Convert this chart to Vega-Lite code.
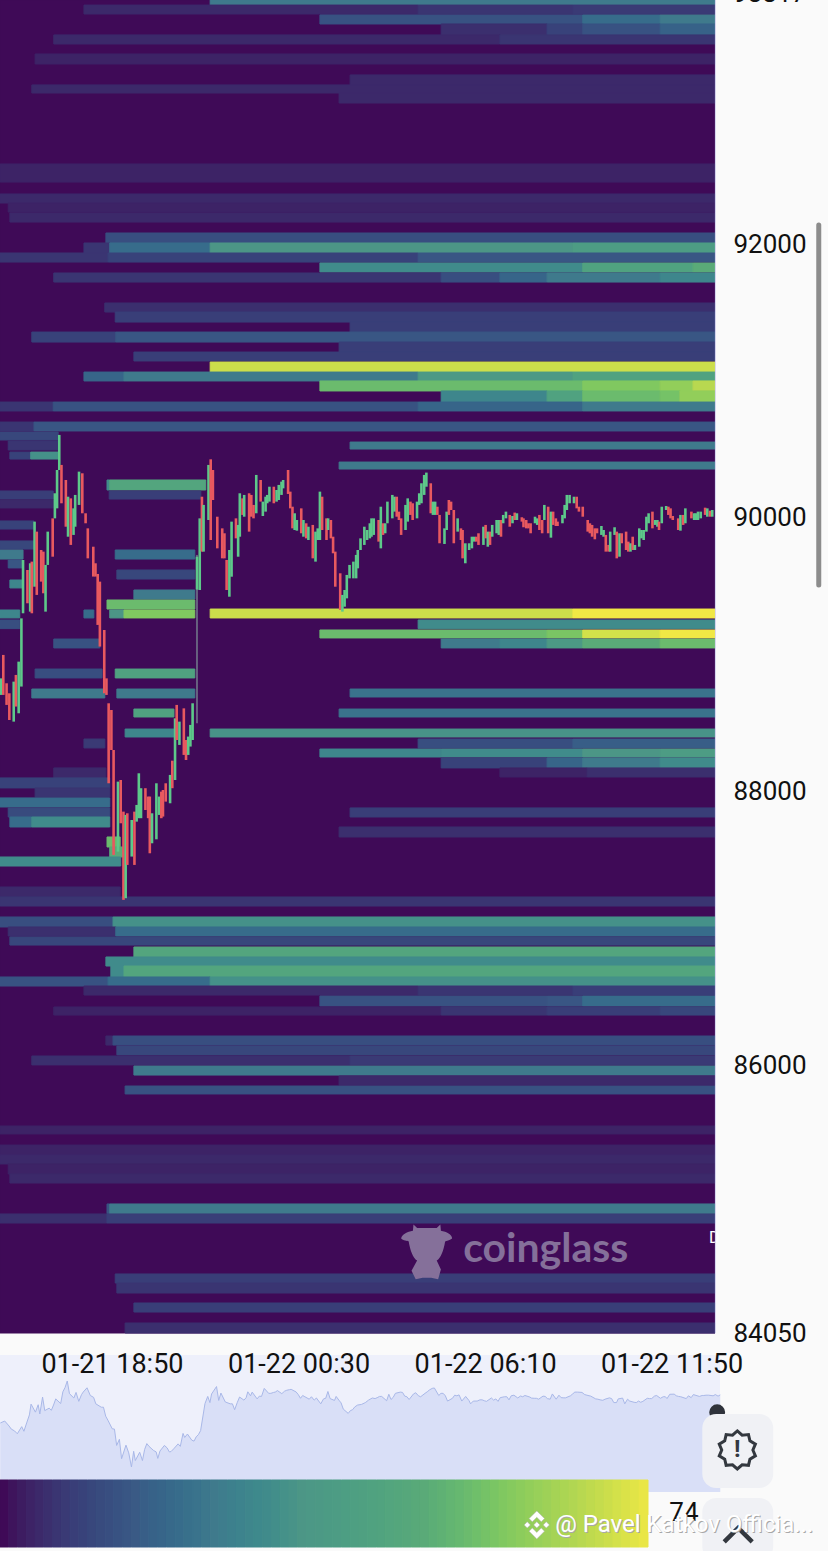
{"$schema":"https://vega.github.io/schema/vega-lite/v6.json","width":828,"height":1551,"padding":0,"autosize":{"type":"none"},"background":"#fafafa","config":{"view":{"stroke":null},"font":"Roboto"},
"resolve":{"scale":{"x":"independent","y":"independent","color":"independent","stroke":"independent"}},
"datasets":{
"heat":[
{"from":"2026-01-21T15:26Z","to":"2026-01-22T13:09Z","low":84043,"high":93774,"v":0},
{"from":"2026-01-21T21:49Z","to":"2026-01-22T13:09Z","low":93737,"high":93774,"v":24},
{"from":"2026-01-21T17:59Z","to":"2026-01-22T04:08Z","low":93672,"high":93737,"v":4},
{"from":"2026-01-22T04:08Z","to":"2026-01-22T08:50Z","low":93672,"high":93737,"v":6},
{"from":"2026-01-22T08:50Z","to":"2026-01-22T13:09Z","low":93672,"high":93737,"v":7},
{"from":"2026-01-22T01:09Z","to":"2026-01-22T09:08Z","low":93599,"high":93665,"v":13},
{"from":"2026-01-22T09:08Z","to":"2026-01-22T11:29Z","low":93599,"high":93665,"v":20},
{"from":"2026-01-22T11:29Z","to":"2026-01-22T13:09Z","low":93599,"high":93665,"v":24},
{"from":"2026-01-22T04:50Z","to":"2026-01-22T08:03Z","low":93519,"high":93599,"v":5},
{"from":"2026-01-22T08:03Z","to":"2026-01-22T09:08Z","low":93519,"high":93599,"v":9},
{"from":"2026-01-22T09:08Z","to":"2026-01-22T11:29Z","low":93519,"high":93599,"v":13},
{"from":"2026-01-22T11:29Z","to":"2026-01-22T13:09Z","low":93519,"high":93599,"v":17},
{"from":"2026-01-21T17:04Z","to":"2026-01-22T06:37Z","low":93453,"high":93519,"v":4},
{"from":"2026-01-22T06:37Z","to":"2026-01-22T13:09Z","low":93453,"high":93519,"v":6},
{"from":"2026-01-21T16:30Z","to":"2026-01-22T13:09Z","low":93307,"high":93380,"v":3},
{"from":"2026-01-22T02:04Z","to":"2026-01-22T13:09Z","low":93154,"high":93227,"v":4},
{"from":"2026-01-21T16:24Z","to":"2026-01-22T13:09Z","low":93095,"high":93154,"v":4},
{"from":"2026-01-22T01:44Z","to":"2026-01-22T13:09Z","low":93022,"high":93095,"v":4},
{"from":"2026-01-21T15:26Z","to":"2026-01-22T13:09Z","low":92445,"high":92577,"v":3},
{"from":"2026-01-21T15:26Z","to":"2026-01-22T13:09Z","low":92292,"high":92358,"v":4},
{"from":"2026-01-21T15:41Z","to":"2026-01-22T13:09Z","low":92226,"high":92292,"v":3},
{"from":"2026-01-21T15:44Z","to":"2026-01-22T13:09Z","low":92153,"high":92219,"v":4},
{"from":"2026-01-21T18:39Z","to":"2026-01-22T13:09Z","low":92000,"high":92073,"v":12},
{"from":"2026-01-21T17:59Z","to":"2026-01-21T18:46Z","low":91927,"high":92000,"v":6},
{"from":"2026-01-21T18:46Z","to":"2026-01-21T21:49Z","low":91927,"high":92000,"v":20},
{"from":"2026-01-21T21:49Z","to":"2026-01-22T08:50Z","low":91927,"high":92000,"v":34},
{"from":"2026-01-22T08:50Z","to":"2026-01-22T13:09Z","low":91927,"high":92000,"v":38},
{"from":"2026-01-21T15:26Z","to":"2026-01-21T18:43Z","low":91861,"high":91927,"v":6},
{"from":"2026-01-21T18:43Z","to":"2026-01-22T04:08Z","low":91861,"high":91927,"v":9},
{"from":"2026-01-22T04:08Z","to":"2026-01-22T13:09Z","low":91861,"high":91927,"v":14},
{"from":"2026-01-22T01:09Z","to":"2026-01-22T09:08Z","low":91788,"high":91854,"v":30},
{"from":"2026-01-22T09:08Z","to":"2026-01-22T12:29Z","low":91788,"high":91854,"v":42},
{"from":"2026-01-22T12:29Z","to":"2026-01-22T13:09Z","low":91788,"high":91854,"v":48},
{"from":"2026-01-21T17:04Z","to":"2026-01-22T04:50Z","low":91715,"high":91781,"v":6},
{"from":"2026-01-22T04:50Z","to":"2026-01-22T06:37Z","low":91715,"high":91781,"v":12},
{"from":"2026-01-22T06:37Z","to":"2026-01-22T08:03Z","low":91715,"high":91781,"v":18},
{"from":"2026-01-22T08:03Z","to":"2026-01-22T11:29Z","low":91715,"high":91781,"v":24},
{"from":"2026-01-22T11:29Z","to":"2026-01-22T13:09Z","low":91715,"high":91781,"v":28},
{"from":"2026-01-21T18:37Z","to":"2026-01-22T13:09Z","low":91496,"high":91562,"v":5},
{"from":"2026-01-21T18:56Z","to":"2026-01-22T13:09Z","low":91423,"high":91496,"v":8},
{"from":"2026-01-22T02:04Z","to":"2026-01-22T13:09Z","low":91350,"high":91423,"v":8},
{"from":"2026-01-21T16:24Z","to":"2026-01-21T18:57Z","low":91277,"high":91350,"v":9},
{"from":"2026-01-21T18:57Z","to":"2026-01-22T13:09Z","low":91277,"high":91350,"v":14},
{"from":"2026-01-22T01:44Z","to":"2026-01-22T13:09Z","low":91204,"high":91277,"v":8},
{"from":"2026-01-21T19:30Z","to":"2026-01-22T13:09Z","low":91139,"high":91204,"v":8},
{"from":"2026-01-21T21:49Z","to":"2026-01-22T13:09Z","low":91058,"high":91131,"v":69},
{"from":"2026-01-21T17:59Z","to":"2026-01-21T19:12Z","low":90993,"high":91058,"v":18},
{"from":"2026-01-21T19:12Z","to":"2026-01-22T04:08Z","low":90993,"high":91058,"v":24},
{"from":"2026-01-22T04:08Z","to":"2026-01-22T08:50Z","low":90993,"high":91058,"v":36},
{"from":"2026-01-22T08:50Z","to":"2026-01-22T13:09Z","low":90993,"high":91058,"v":42},
{"from":"2026-01-22T01:09Z","to":"2026-01-22T09:08Z","low":90920,"high":90993,"v":53},
{"from":"2026-01-22T09:08Z","to":"2026-01-22T11:29Z","low":90920,"high":90993,"v":57},
{"from":"2026-01-22T11:29Z","to":"2026-01-22T12:29Z","low":90920,"high":90993,"v":60},
{"from":"2026-01-22T12:29Z","to":"2026-01-22T13:09Z","low":90920,"high":90993,"v":66},
{"from":"2026-01-22T04:50Z","to":"2026-01-22T08:03Z","low":90839,"high":90920,"v":28},
{"from":"2026-01-22T08:03Z","to":"2026-01-22T09:08Z","low":90839,"high":90920,"v":42},
{"from":"2026-01-22T09:08Z","to":"2026-01-22T11:29Z","low":90839,"high":90920,"v":53},
{"from":"2026-01-22T11:29Z","to":"2026-01-22T12:05Z","low":90839,"high":90920,"v":55},
{"from":"2026-01-22T12:05Z","to":"2026-01-22T13:09Z","low":90839,"high":90920,"v":60},
{"from":"2026-01-21T15:26Z","to":"2026-01-21T17:03Z","low":90774,"high":90839,"v":6},
{"from":"2026-01-21T17:03Z","to":"2026-01-22T04:08Z","low":90774,"high":90839,"v":13},
{"from":"2026-01-22T04:08Z","to":"2026-01-22T09:08Z","low":90774,"high":90839,"v":18},
{"from":"2026-01-22T09:08Z","to":"2026-01-22T13:09Z","low":90774,"high":90839,"v":24},
{"from":"2026-01-21T15:26Z","to":"2026-01-21T16:28Z","low":90628,"high":90693,"v":6},
{"from":"2026-01-21T16:28Z","to":"2026-01-22T13:09Z","low":90628,"high":90693,"v":14},
{"from":"2026-01-21T15:26Z","to":"2026-01-21T17:12Z","low":90562,"high":90620,"v":10},
{"from":"2026-01-21T15:41Z","to":"2026-01-21T17:12Z","low":90489,"high":90555,"v":6},
{"from":"2026-01-22T02:04Z","to":"2026-01-22T13:09Z","low":90496,"high":90547,"v":24},
{"from":"2026-01-21T15:44Z","to":"2026-01-21T16:22Z","low":90423,"high":90474,"v":9},
{"from":"2026-01-21T16:22Z","to":"2026-01-21T17:12Z","low":90423,"high":90474,"v":32},
{"from":"2026-01-22T01:44Z","to":"2026-01-22T13:09Z","low":90350,"high":90401,"v":24},
{"from":"2026-01-21T18:41Z","to":"2026-01-21T18:46Z","low":90197,"high":90270,"v":30},
{"from":"2026-01-21T18:46Z","to":"2026-01-21T21:41Z","low":90197,"high":90270,"v":44},
{"from":"2026-01-21T15:26Z","to":"2026-01-21T17:03Z","low":90131,"high":90190,"v":8},
{"from":"2026-01-21T18:45Z","to":"2026-01-21T21:32Z","low":90131,"high":90190,"v":8},
{"from":"2026-01-21T15:26Z","to":"2026-01-21T17:03Z","low":90066,"high":90124,"v":4},
{"from":"2026-01-21T15:26Z","to":"2026-01-21T16:28Z","low":89912,"high":89971,"v":9},
{"from":"2026-01-21T15:26Z","to":"2026-01-21T16:28Z","low":89766,"high":89825,"v":10},
{"from":"2026-01-21T15:26Z","to":"2026-01-21T16:08Z","low":89693,"high":89759,"v":24},
{"from":"2026-01-21T18:56Z","to":"2026-01-21T21:21Z","low":89693,"high":89759,"v":20},
{"from":"2026-01-21T15:41Z","to":"2026-01-21T16:08Z","low":89628,"high":89686,"v":14},
{"from":"2026-01-21T18:59Z","to":"2026-01-21T21:21Z","low":89547,"high":89613,"v":10},
{"from":"2026-01-21T15:44Z","to":"2026-01-21T16:08Z","low":89482,"high":89540,"v":28},
{"from":"2026-01-21T19:30Z","to":"2026-01-21T21:21Z","low":89401,"high":89467,"v":24},
{"from":"2026-01-21T18:41Z","to":"2026-01-21T21:21Z","low":89328,"high":89394,"v":53},
{"from":"2026-01-21T15:26Z","to":"2026-01-21T16:02Z","low":89263,"high":89321,"v":28},
{"from":"2026-01-21T17:59Z","to":"2026-01-21T18:17Z","low":89263,"high":89321,"v":20},
{"from":"2026-01-21T18:46Z","to":"2026-01-21T19:12Z","low":89263,"high":89321,"v":34},
{"from":"2026-01-21T19:12Z","to":"2026-01-21T21:21Z","low":89263,"high":89321,"v":57},
{"from":"2026-01-21T21:49Z","to":"2026-01-22T08:50Z","low":89263,"high":89328,"v":69},
{"from":"2026-01-22T08:50Z","to":"2026-01-22T13:09Z","low":89263,"high":89328,"v":74},
{"from":"2026-01-21T15:26Z","to":"2026-01-21T16:02Z","low":89185,"high":89248,"v":12},
{"from":"2026-01-22T04:08Z","to":"2026-01-22T13:09Z","low":89185,"high":89248,"v":30},
{"from":"2026-01-22T01:09Z","to":"2026-01-22T08:03Z","low":89117,"high":89175,"v":53},
{"from":"2026-01-22T08:03Z","to":"2026-01-22T09:08Z","low":89117,"high":89175,"v":56},
{"from":"2026-01-22T09:08Z","to":"2026-01-22T11:29Z","low":89117,"high":89175,"v":70},
{"from":"2026-01-22T11:29Z","to":"2026-01-22T13:09Z","low":89117,"high":89175,"v":74},
{"from":"2026-01-21T17:04Z","to":"2026-01-21T18:28Z","low":89044,"high":89109,"v":13},
{"from":"2026-01-22T04:50Z","to":"2026-01-22T06:37Z","low":89044,"high":89109,"v":24},
{"from":"2026-01-22T06:37Z","to":"2026-01-22T08:03Z","low":89044,"high":89109,"v":28},
{"from":"2026-01-22T08:03Z","to":"2026-01-22T09:08Z","low":89044,"high":89109,"v":36},
{"from":"2026-01-22T09:08Z","to":"2026-01-22T11:29Z","low":89044,"high":89109,"v":48},
{"from":"2026-01-22T11:29Z","to":"2026-01-22T13:09Z","low":89044,"high":89109,"v":53},
{"from":"2026-01-21T16:30Z","to":"2026-01-21T18:32Z","low":88825,"high":88890,"v":12},
{"from":"2026-01-21T18:56Z","to":"2026-01-21T21:21Z","low":88825,"high":88890,"v":42},
{"from":"2026-01-21T16:24Z","to":"2026-01-21T18:37Z","low":88679,"high":88744,"v":24},
{"from":"2026-01-21T18:59Z","to":"2026-01-21T21:21Z","low":88679,"high":88744,"v":24},
{"from":"2026-01-22T02:04Z","to":"2026-01-22T13:09Z","low":88686,"high":88744,"v":22},
{"from":"2026-01-21T19:30Z","to":"2026-01-21T20:43Z","low":88540,"high":88598,"v":42},
{"from":"2026-01-22T01:44Z","to":"2026-01-22T13:09Z","low":88540,"high":88598,"v":22},
{"from":"2026-01-21T19:14Z","to":"2026-01-21T20:43Z","low":88394,"high":88452,"v":28},
{"from":"2026-01-21T21:49Z","to":"2026-01-22T13:09Z","low":88394,"high":88452,"v":33},
{"from":"2026-01-21T17:59Z","to":"2026-01-21T18:37Z","low":88314,"high":88379,"v":7},
{"from":"2026-01-22T04:08Z","to":"2026-01-22T08:50Z","low":88314,"high":88379,"v":12},
{"from":"2026-01-22T08:50Z","to":"2026-01-22T13:09Z","low":88314,"high":88379,"v":16},
{"from":"2026-01-22T01:09Z","to":"2026-01-22T04:50Z","low":88248,"high":88306,"v":28},
{"from":"2026-01-22T04:50Z","to":"2026-01-22T09:08Z","low":88248,"high":88306,"v":30},
{"from":"2026-01-22T09:08Z","to":"2026-01-22T11:29Z","low":88248,"high":88306,"v":34},
{"from":"2026-01-22T11:29Z","to":"2026-01-22T13:09Z","low":88248,"high":88306,"v":38},
{"from":"2026-01-22T04:50Z","to":"2026-01-22T08:03Z","low":88168,"high":88241,"v":9},
{"from":"2026-01-22T08:03Z","to":"2026-01-22T09:08Z","low":88168,"high":88241,"v":18},
{"from":"2026-01-22T09:08Z","to":"2026-01-22T11:29Z","low":88168,"high":88241,"v":24},
{"from":"2026-01-22T11:29Z","to":"2026-01-22T13:09Z","low":88168,"high":88241,"v":30},
{"from":"2026-01-22T06:37Z","to":"2026-01-22T09:16Z","low":88102,"high":88168,"v":3},
{"from":"2026-01-22T09:16Z","to":"2026-01-22T13:09Z","low":88102,"high":88168,"v":5},
{"from":"2026-01-21T17:04Z","to":"2026-01-21T18:39Z","low":88095,"high":88168,"v":4},
{"from":"2026-01-21T15:26Z","to":"2026-01-21T18:46Z","low":88022,"high":88095,"v":9},
{"from":"2026-01-21T16:30Z","to":"2026-01-21T18:46Z","low":87956,"high":88022,"v":6},
{"from":"2026-01-21T15:26Z","to":"2026-01-21T18:46Z","low":87883,"high":87949,"v":20},
{"from":"2026-01-21T15:41Z","to":"2026-01-21T18:46Z","low":87810,"high":87876,"v":11},
{"from":"2026-01-22T02:04Z","to":"2026-01-22T13:09Z","low":87810,"high":87876,"v":8},
{"from":"2026-01-21T15:44Z","to":"2026-01-21T16:24Z","low":87737,"high":87810,"v":20},
{"from":"2026-01-21T16:24Z","to":"2026-01-21T18:46Z","low":87737,"high":87810,"v":30},
{"from":"2026-01-22T01:44Z","to":"2026-01-22T13:09Z","low":87664,"high":87737,"v":5},
{"from":"2026-01-21T18:41Z","to":"2026-01-21T19:05Z","low":87591,"high":87664,"v":53},
{"from":"2026-01-21T18:46Z","to":"2026-01-21T19:10Z","low":87518,"high":87591,"v":48},
{"from":"2026-01-21T15:26Z","to":"2026-01-21T19:06Z","low":87452,"high":87518,"v":30},
{"from":"2026-01-21T15:26Z","to":"2026-01-21T19:05Z","low":87226,"high":87299,"v":4},
{"from":"2026-01-21T15:26Z","to":"2026-01-22T13:09Z","low":87160,"high":87226,"v":6},
{"from":"2026-01-21T15:26Z","to":"2026-01-21T18:52Z","low":87007,"high":87080,"v":12},
{"from":"2026-01-21T18:52Z","to":"2026-01-22T13:09Z","low":87007,"high":87080,"v":32},
{"from":"2026-01-21T15:41Z","to":"2026-01-21T18:57Z","low":86941,"high":87007,"v":5},
{"from":"2026-01-21T18:57Z","to":"2026-01-22T13:09Z","low":86941,"high":87007,"v":20},
{"from":"2026-01-21T15:44Z","to":"2026-01-22T13:09Z","low":86875,"high":86934,"v":10},
{"from":"2026-01-21T19:30Z","to":"2026-01-22T13:09Z","low":86788,"high":86861,"v":44},
{"from":"2026-01-21T18:39Z","to":"2026-01-22T13:09Z","low":86722,"high":86788,"v":30},
{"from":"2026-01-21T18:48Z","to":"2026-01-21T19:12Z","low":86642,"high":86722,"v":30},
{"from":"2026-01-21T19:12Z","to":"2026-01-22T13:09Z","low":86642,"high":86722,"v":44},
{"from":"2026-01-21T15:26Z","to":"2026-01-21T18:43Z","low":86576,"high":86642,"v":13},
{"from":"2026-01-21T18:43Z","to":"2026-01-21T21:49Z","low":86576,"high":86642,"v":20},
{"from":"2026-01-21T21:49Z","to":"2026-01-22T13:09Z","low":86576,"high":86642,"v":32},
{"from":"2026-01-21T17:59Z","to":"2026-01-22T04:08Z","low":86510,"high":86576,"v":4},
{"from":"2026-01-22T04:08Z","to":"2026-01-22T08:50Z","low":86510,"high":86576,"v":6},
{"from":"2026-01-22T08:50Z","to":"2026-01-22T13:09Z","low":86510,"high":86576,"v":8},
{"from":"2026-01-22T01:09Z","to":"2026-01-22T08:03Z","low":86430,"high":86503,"v":13},
{"from":"2026-01-22T08:03Z","to":"2026-01-22T09:08Z","low":86430,"high":86503,"v":14},
{"from":"2026-01-22T09:08Z","to":"2026-01-22T13:09Z","low":86430,"high":86503,"v":20},
{"from":"2026-01-21T17:04Z","to":"2026-01-22T04:50Z","low":86364,"high":86423,"v":3},
{"from":"2026-01-22T04:50Z","to":"2026-01-22T08:03Z","low":86364,"high":86423,"v":6},
{"from":"2026-01-22T08:03Z","to":"2026-01-22T11:29Z","low":86364,"high":86423,"v":8},
{"from":"2026-01-22T11:29Z","to":"2026-01-22T13:09Z","low":86364,"high":86423,"v":10},
{"from":"2026-01-21T18:39Z","to":"2026-01-21T18:52Z","low":86145,"high":86211,"v":4},
{"from":"2026-01-21T18:52Z","to":"2026-01-22T13:09Z","low":86145,"high":86211,"v":12},
{"from":"2026-01-21T18:59Z","to":"2026-01-22T13:09Z","low":86073,"high":86138,"v":10},
{"from":"2026-01-21T16:24Z","to":"2026-01-22T02:04Z","low":86000,"high":86065,"v":5},
{"from":"2026-01-22T02:04Z","to":"2026-01-22T13:09Z","low":86000,"high":86065,"v":7},
{"from":"2026-01-21T19:30Z","to":"2026-01-22T13:09Z","low":85926,"high":85992,"v":24},
{"from":"2026-01-22T01:44Z","to":"2026-01-22T13:09Z","low":85853,"high":85919,"v":4},
{"from":"2026-01-21T19:14Z","to":"2026-01-22T13:09Z","low":85788,"high":85846,"v":13},
{"from":"2026-01-21T15:26Z","to":"2026-01-22T13:09Z","low":85496,"high":85554,"v":3},
{"from":"2026-01-21T15:26Z","to":"2026-01-22T13:09Z","low":85342,"high":85415,"v":3},
{"from":"2026-01-21T15:26Z","to":"2026-01-22T13:09Z","low":85277,"high":85342,"v":4},
{"from":"2026-01-21T15:41Z","to":"2026-01-22T13:09Z","low":85204,"high":85277,"v":3},
{"from":"2026-01-21T15:44Z","to":"2026-01-22T13:09Z","low":85138,"high":85204,"v":4},
{"from":"2026-01-21T18:41Z","to":"2026-01-21T18:46Z","low":84912,"high":84985,"v":13},
{"from":"2026-01-21T18:46Z","to":"2026-01-22T13:09Z","low":84912,"high":84985,"v":24},
{"from":"2026-01-21T15:26Z","to":"2026-01-21T18:41Z","low":84846,"high":84912,"v":5},
{"from":"2026-01-21T18:41Z","to":"2026-01-22T13:09Z","low":84846,"high":84912,"v":8},
{"from":"2026-01-21T18:56Z","to":"2026-01-22T13:09Z","low":84408,"high":84474,"v":8},
{"from":"2026-01-21T18:59Z","to":"2026-01-22T13:09Z","low":84335,"high":84408,"v":6},
{"from":"2026-01-21T19:30Z","to":"2026-01-22T13:09Z","low":84196,"high":84262,"v":8},
{"from":"2026-01-21T19:14Z","to":"2026-01-22T13:09Z","low":84043,"high":84116,"v":5}
],
"candles":[
{"t":"2026-01-21T15:12Z","open":88942,"close":88942},
{"t":"2026-01-21T15:20Z","open":89020,"close":89020},
{"t":"2026-01-21T15:28Z","open":88701,"close":88822},
{"t":"2026-01-21T15:32Z","open":88993,"close":88701},
{"t":"2026-01-21T15:38Z","open":88786,"close":88628},
{"t":"2026-01-21T15:43Z","open":88713,"close":88518},
{"t":"2026-01-21T15:51Z","open":88506,"close":88798},
{"t":"2026-01-21T15:55Z","open":88847,"close":88616},
{"t":"2026-01-21T16:00Z","open":88567,"close":88944},
{"t":"2026-01-21T16:05Z","open":88762,"close":89260},
{"t":"2026-01-21T16:08Z","open":89297,"close":89686},
{"t":"2026-01-21T16:16Z","open":89613,"close":89370},
{"t":"2026-01-21T16:21Z","open":89309,"close":89662},
{"t":"2026-01-21T16:24Z","open":89674,"close":89297},
{"t":"2026-01-21T16:29Z","open":89491,"close":89966},
{"t":"2026-01-21T16:33Z","open":89893,"close":89431},
{"t":"2026-01-21T16:41Z","open":89759,"close":89528},
{"t":"2026-01-21T16:45Z","open":89747,"close":89443},
{"t":"2026-01-21T16:49Z","open":89309,"close":89650},
{"t":"2026-01-21T16:53Z","open":89650,"close":89893},
{"t":"2026-01-21T17:02Z","open":89990,"close":89710},
{"t":"2026-01-21T17:06Z","open":89990,"close":90173},
{"t":"2026-01-21T17:10Z","open":90063,"close":90343},
{"t":"2026-01-21T17:14Z","open":90343,"close":90599},
{"t":"2026-01-21T17:18Z","open":90380,"close":90100},
{"t":"2026-01-21T17:26Z","open":90270,"close":89929},
{"t":"2026-01-21T17:30Z","open":89856,"close":90148},
{"t":"2026-01-21T17:35Z","open":90136,"close":89796},
{"t":"2026-01-21T17:40Z","open":89869,"close":90063},
{"t":"2026-01-21T17:43Z","open":89929,"close":90161},
{"t":"2026-01-21T17:50Z","open":90088,"close":90331},
{"t":"2026-01-21T17:56Z","open":90319,"close":90027},
{"t":"2026-01-21T18:02Z","open":90027,"close":89954},
{"t":"2026-01-21T18:06Z","open":89917,"close":89698},
{"t":"2026-01-21T18:16Z","open":89783,"close":89565},
{"t":"2026-01-21T18:20Z","open":89662,"close":89565},
{"t":"2026-01-21T18:24Z","open":89584,"close":89212},
{"t":"2026-01-21T18:28Z","open":89528,"close":89054},
{"t":"2026-01-21T18:36Z","open":89175,"close":88713},
{"t":"2026-01-21T18:40Z","open":88822,"close":88701},
{"t":"2026-01-21T18:44Z","open":88640,"close":88056},
{"t":"2026-01-21T18:49Z","open":88591,"close":88299},
{"t":"2026-01-21T18:53Z","open":88299,"close":87533},
{"t":"2026-01-21T19:01Z","open":87557,"close":88068},
{"t":"2026-01-21T19:06Z","open":88080,"close":87764},
{"t":"2026-01-21T19:11Z","open":87849,"close":87205},
{"t":"2026-01-21T19:15Z","open":87217,"close":87825},
{"t":"2026-01-21T19:18Z","open":87837,"close":87460},
{"t":"2026-01-21T19:26Z","open":87521,"close":87788},
{"t":"2026-01-21T19:31Z","open":87849,"close":87460},
{"t":"2026-01-21T19:35Z","open":87776,"close":87898},
{"t":"2026-01-21T19:39Z","open":87801,"close":88129},
{"t":"2026-01-21T19:43Z","open":87801,"close":88020},
{"t":"2026-01-21T19:51Z","open":88020,"close":87861},
{"t":"2026-01-21T19:56Z","open":87959,"close":87801},
{"t":"2026-01-21T19:59Z","open":87959,"close":87545},
{"t":"2026-01-21T20:03Z","open":87618,"close":87837},
{"t":"2026-01-21T20:11Z","open":87647,"close":88056},
{"t":"2026-01-21T20:16Z","open":87825,"close":87959},
{"t":"2026-01-21T20:20Z","open":87995,"close":87801},
{"t":"2026-01-21T20:23Z","open":88007,"close":87813},
{"t":"2026-01-21T20:28Z","open":88056,"close":87922},
{"t":"2026-01-21T20:36Z","open":87910,"close":88117},
{"t":"2026-01-21T20:40Z","open":88221,"close":88020},
{"t":"2026-01-21T20:45Z","open":88080,"close":88530},
{"t":"2026-01-21T20:48Z","open":88628,"close":88372},
{"t":"2026-01-21T20:53Z","open":88336,"close":88506},
{"t":"2026-01-21T21:01Z","open":88603,"close":88263},
{"t":"2026-01-21T21:05Z","open":88372,"close":88226},
{"t":"2026-01-21T21:09Z","open":88263,"close":88397},
{"t":"2026-01-21T21:13Z","open":88324,"close":88482},
{"t":"2026-01-21T21:17Z","open":88372,"close":88640},
{"t":"2026-01-21T21:25Z","open":89470,"close":89710,"high":89723,"low":88494},
{"t":"2026-01-21T21:30Z","open":89467,"close":89990},
{"t":"2026-01-21T21:34Z","open":90148,"close":89747},
{"t":"2026-01-21T21:37Z","open":89747,"close":90088},
{"t":"2026-01-21T21:46Z","open":89978,"close":90380},
{"t":"2026-01-21T21:50Z","open":90421,"close":89832},
{"t":"2026-01-21T21:54Z","open":90343,"close":90124},
{"t":"2026-01-21T22:02Z","open":90002,"close":89771},
{"t":"2026-01-21T22:11Z","open":89917,"close":89698},
{"t":"2026-01-21T22:15Z","open":89881,"close":89698},
{"t":"2026-01-21T22:19Z","open":89686,"close":89467},
{"t":"2026-01-21T22:24Z","open":89418,"close":89759},
{"t":"2026-01-21T22:28Z","open":89564,"close":89966},
{"t":"2026-01-21T22:36Z","open":89990,"close":89844},
{"t":"2026-01-21T22:40Z","open":89710,"close":89942},
{"t":"2026-01-21T22:43Z","open":89856,"close":90173},
{"t":"2026-01-21T22:48Z","open":90136,"close":90015},
{"t":"2026-01-21T22:51Z","open":90002,"close":90161},
{"t":"2026-01-21T23:00Z","open":90173,"close":89893},
{"t":"2026-01-21T23:04Z","open":90161,"close":90002},
{"t":"2026-01-21T23:08Z","open":90088,"close":89990},
{"t":"2026-01-21T23:13Z","open":90027,"close":90307},
{"t":"2026-01-21T23:21Z","open":90270,"close":90112},
{"t":"2026-01-21T23:25Z","open":90007,"close":90112},
{"t":"2026-01-21T23:30Z","open":90039,"close":90148},
{"t":"2026-01-21T23:33Z","open":90100,"close":90161},
{"t":"2026-01-21T23:37Z","open":90112,"close":90221},
{"t":"2026-01-21T23:45Z","open":90221,"close":90100},
{"t":"2026-01-21T23:50Z","open":90112,"close":90197},
{"t":"2026-01-21T23:54Z","open":90124,"close":90234},
{"t":"2026-01-21T23:59Z","open":90161,"close":90258},
{"t":"2026-01-22T00:02Z","open":90209,"close":90270},
{"t":"2026-01-22T00:11Z","open":90343,"close":90168},
{"t":"2026-01-22T00:15Z","open":90185,"close":90063},
{"t":"2026-01-22T00:19Z","open":90075,"close":89917},
{"t":"2026-01-22T00:23Z","open":89905,"close":90027},
{"t":"2026-01-22T00:27Z","open":89900,"close":89978},
{"t":"2026-01-22T00:35Z","open":90063,"close":89881},
{"t":"2026-01-22T00:39Z","open":89856,"close":89978},
{"t":"2026-01-22T00:44Z","open":89954,"close":89844},
{"t":"2026-01-22T00:48Z","open":89832,"close":89929},
{"t":"2026-01-22T00:56Z","open":89942,"close":89698},
{"t":"2026-01-22T01:01Z","open":89674,"close":89893},
{"t":"2026-01-22T01:05Z","open":89832,"close":89917},
{"t":"2026-01-22T01:09Z","open":89832,"close":90185},
{"t":"2026-01-22T01:13Z","open":90148,"close":89905},
{"t":"2026-01-22T01:21Z","open":89990,"close":89832},
{"t":"2026-01-22T01:24Z","open":89905,"close":89990},
{"t":"2026-01-22T01:29Z","open":89978,"close":89844},
{"t":"2026-01-22T01:33Z","open":89856,"close":89735},
{"t":"2026-01-22T01:37Z","open":89747,"close":89491},
{"t":"2026-01-22T01:46Z","open":89589,"close":89321},
{"t":"2026-01-22T01:50Z","open":89309,"close":89431},
{"t":"2026-01-22T01:54Z","open":89345,"close":89467},
{"t":"2026-01-22T01:58Z","open":89406,"close":89577},
{"t":"2026-01-22T02:03Z","open":89552,"close":89650},
{"t":"2026-01-22T02:10Z","open":89552,"close":89674},
{"t":"2026-01-22T02:15Z","open":89552,"close":89723},
{"t":"2026-01-22T02:18Z","open":89625,"close":89759},
{"t":"2026-01-22T02:23Z","open":89759,"close":89844},
{"t":"2026-01-22T02:30Z","open":89796,"close":89929},
{"t":"2026-01-22T02:35Z","open":89832,"close":89905},
{"t":"2026-01-22T02:40Z","open":89844,"close":89954},
{"t":"2026-01-22T02:43Z","open":89856,"close":89990},
{"t":"2026-01-22T02:47Z","open":89869,"close":89990},
{"t":"2026-01-22T02:56Z","open":89978,"close":89820},
{"t":"2026-01-22T03:00Z","open":89771,"close":90075},
{"t":"2026-01-22T03:04Z","open":89954,"close":89869},
{"t":"2026-01-22T03:08Z","open":89881,"close":89954},
{"t":"2026-01-22T03:12Z","open":89954,"close":90112},
{"t":"2026-01-22T03:21Z","open":89990,"close":90161},
{"t":"2026-01-22T03:25Z","open":90039,"close":90148},
{"t":"2026-01-22T03:29Z","open":90148,"close":90002},
{"t":"2026-01-22T03:33Z","open":90039,"close":89978},
{"t":"2026-01-22T03:37Z","open":89990,"close":89869},
{"t":"2026-01-22T03:45Z","open":89905,"close":90088},
{"t":"2026-01-22T03:49Z","open":89966,"close":90136},
{"t":"2026-01-22T03:54Z","open":90112,"close":90015},
{"t":"2026-01-22T03:58Z","open":90100,"close":89978},
{"t":"2026-01-22T04:06Z","open":89990,"close":90112},
{"t":"2026-01-22T04:10Z","open":90088,"close":90173},
{"t":"2026-01-22T04:14Z","open":90100,"close":90246},
{"t":"2026-01-22T04:19Z","open":90161,"close":90307},
{"t":"2026-01-22T04:23Z","open":90221,"close":90324},
{"t":"2026-01-22T04:31Z","open":90246,"close":90027},
{"t":"2026-01-22T04:35Z","open":90015,"close":90112},
{"t":"2026-01-22T04:39Z","open":90015,"close":90112},
{"t":"2026-01-22T04:43Z","open":90075,"close":90015},
{"t":"2026-01-22T04:47Z","open":90015,"close":89808},
{"t":"2026-01-22T04:56Z","open":89803,"close":89917},
{"t":"2026-01-22T05:00Z","open":89905,"close":90039},
{"t":"2026-01-22T05:04Z","open":90124,"close":90015},
{"t":"2026-01-22T05:08Z","open":90112,"close":90051},
{"t":"2026-01-22T05:13Z","open":90051,"close":89808},
{"t":"2026-01-22T05:20Z","open":89893,"close":89990},
{"t":"2026-01-22T05:26Z","open":89917,"close":89832},
{"t":"2026-01-22T05:29Z","open":89905,"close":89698},
{"t":"2026-01-22T05:34Z","open":89662,"close":89808},
{"t":"2026-01-22T05:41Z","open":89759,"close":89808},
{"t":"2026-01-22T05:46Z","open":89771,"close":89856},
{"t":"2026-01-22T05:50Z","open":89820,"close":89856},
{"t":"2026-01-22T05:54Z","open":89856,"close":89820},
{"t":"2026-01-22T05:58Z","open":89881,"close":89796},
{"t":"2026-01-22T06:07Z","open":89796,"close":89929},
{"t":"2026-01-22T06:11Z","open":89942,"close":89844},
{"t":"2026-01-22T06:15Z","open":89783,"close":89893},
{"t":"2026-01-22T06:19Z","open":89893,"close":89796},
{"t":"2026-01-22T06:23Z","open":89856,"close":89942},
{"t":"2026-01-22T06:31Z","open":89881,"close":89978},
{"t":"2026-01-22T06:35Z","open":89869,"close":89978},
{"t":"2026-01-22T06:39Z","open":89978,"close":89856},
{"t":"2026-01-22T06:43Z","open":89954,"close":90015},
{"t":"2026-01-22T06:48Z","open":89990,"close":90039},
{"t":"2026-01-22T06:55Z","open":90015,"close":89929},
{"t":"2026-01-22T07:00Z","open":89954,"close":90007},
{"t":"2026-01-22T07:04Z","open":90032,"close":89978},
{"t":"2026-01-22T07:08Z","open":89978,"close":90027},
{"t":"2026-01-22T07:17Z","open":89998,"close":89966},
{"t":"2026-01-22T07:20Z","open":89990,"close":89925},
{"t":"2026-01-22T07:25Z","open":89978,"close":89917},
{"t":"2026-01-22T07:29Z","open":89954,"close":89917},
{"t":"2026-01-22T07:33Z","open":89954,"close":89881},
{"t":"2026-01-22T07:41Z","open":89954,"close":90002},
{"t":"2026-01-22T07:45Z","open":89942,"close":89990},
{"t":"2026-01-22T07:49Z","open":90015,"close":89905},
{"t":"2026-01-22T07:54Z","open":89978,"close":89881},
{"t":"2026-01-22T07:58Z","open":89978,"close":90088},
{"t":"2026-01-22T08:05Z","open":90075,"close":89881},
{"t":"2026-01-22T08:10Z","open":89849,"close":90039},
{"t":"2026-01-22T08:14Z","open":90039,"close":89942},
{"t":"2026-01-22T08:19Z","open":89990,"close":89934},
{"t":"2026-01-22T08:22Z","open":89966,"close":89934},
{"t":"2026-01-22T08:31Z","open":89954,"close":90015},
{"t":"2026-01-22T08:35Z","open":89990,"close":90088},
{"t":"2026-01-22T08:39Z","open":90051,"close":90161},
{"t":"2026-01-22T08:44Z","open":90100,"close":90161},
{"t":"2026-01-22T08:52Z","open":90100,"close":90148},
{"t":"2026-01-22T08:57Z","open":90148,"close":90063},
{"t":"2026-01-22T09:01Z","open":90075,"close":90039},
{"t":"2026-01-22T09:08Z","open":90075,"close":90002},
{"t":"2026-01-22T09:17Z","open":89978,"close":89893},
{"t":"2026-01-22T09:21Z","open":89954,"close":89881},
{"t":"2026-01-22T09:25Z","open":89942,"close":89856},
{"t":"2026-01-22T09:30Z","open":89917,"close":89837},
{"t":"2026-01-22T09:34Z","open":89917,"close":89881},
{"t":"2026-01-22T09:42Z","open":89869,"close":89934},
{"t":"2026-01-22T09:46Z","open":89856,"close":89905},
{"t":"2026-01-22T09:50Z","open":89869,"close":89747},
{"t":"2026-01-22T09:55Z","open":89796,"close":89747},
{"t":"2026-01-22T09:58Z","open":89747,"close":89893},
{"t":"2026-01-22T10:06Z","open":89869,"close":89925},
{"t":"2026-01-22T10:10Z","open":89893,"close":89698},
{"t":"2026-01-22T10:15Z","open":89710,"close":89881},
{"t":"2026-01-22T10:19Z","open":89881,"close":89808},
{"t":"2026-01-22T10:27Z","open":89893,"close":89759},
{"t":"2026-01-22T10:31Z","open":89820,"close":89747},
{"t":"2026-01-22T10:35Z","open":89747,"close":89808},
{"t":"2026-01-22T10:39Z","open":89856,"close":89759},
{"t":"2026-01-22T10:43Z","open":89759,"close":89796},
{"t":"2026-01-22T10:51Z","open":89783,"close":89917},
{"t":"2026-01-22T10:55Z","open":89844,"close":89905},
{"t":"2026-01-22T10:59Z","open":89832,"close":89905},
{"t":"2026-01-22T11:04Z","open":89893,"close":90002},
{"t":"2026-01-22T11:08Z","open":89954,"close":90027},
{"t":"2026-01-22T11:15Z","open":90039,"close":89917},
{"t":"2026-01-22T11:20Z","open":89942,"close":89978},
{"t":"2026-01-22T11:24Z","open":89929,"close":89978},
{"t":"2026-01-22T11:27Z","open":89966,"close":89905},
{"t":"2026-01-22T11:32Z","open":89954,"close":90075},
{"t":"2026-01-22T11:40Z","open":90051,"close":90080},
{"t":"2026-01-22T11:44Z","open":90075,"close":90015},
{"t":"2026-01-22T11:48Z","open":90063,"close":89990},
{"t":"2026-01-22T11:52Z","open":90007,"close":89978},
{"t":"2026-01-22T12:02Z","open":89990,"close":89905},
{"t":"2026-01-22T12:06Z","open":89900,"close":90015},
{"t":"2026-01-22T12:11Z","open":90015,"close":89942},
{"t":"2026-01-22T12:15Z","open":89954,"close":90063},
{"t":"2026-01-22T12:26Z","open":90039,"close":89990},
{"t":"2026-01-22T12:31Z","open":89978,"close":90027},
{"t":"2026-01-22T12:34Z","open":89978,"close":90027},
{"t":"2026-01-22T12:38Z","open":89978,"close":90039},
{"t":"2026-01-22T12:43Z","open":89990,"close":90039},
{"t":"2026-01-22T12:51Z","open":90068,"close":90015},
{"t":"2026-01-22T12:55Z","open":90002,"close":90063},
{"t":"2026-01-22T13:00Z","open":90046,"close":90002},
{"t":"2026-01-22T13:04Z","open":90002,"close":90051}
],
"ramp":[
{"level":0,"next":1,"low":0,"high":1},{"level":1,"next":2,"low":0,"high":1},{"level":2,"next":3,"low":0,"high":1},{"level":3,"next":4,"low":0,"high":1},{"level":4,"next":5,"low":0,"high":1},{"level":5,"next":6,"low":0,"high":1},{"level":6,"next":7,"low":0,"high":1},{"level":7,"next":8,"low":0,"high":1},{"level":8,"next":9,"low":0,"high":1},{"level":9,"next":10,"low":0,"high":1},{"level":10,"next":11,"low":0,"high":1},{"level":11,"next":12,"low":0,"high":1},{"level":12,"next":13,"low":0,"high":1},{"level":13,"next":14,"low":0,"high":1},{"level":14,"next":15,"low":0,"high":1},{"level":15,"next":16,"low":0,"high":1},{"level":16,"next":17,"low":0,"high":1},{"level":17,"next":18,"low":0,"high":1},{"level":18,"next":19,"low":0,"high":1},{"level":19,"next":20,"low":0,"high":1},{"level":20,"next":21,"low":0,"high":1},{"level":21,"next":22,"low":0,"high":1},{"level":22,"next":23,"low":0,"high":1},{"level":23,"next":24,"low":0,"high":1},{"level":24,"next":25,"low":0,"high":1},{"level":25,"next":26,"low":0,"high":1},{"level":26,"next":27,"low":0,"high":1},{"level":27,"next":28,"low":0,"high":1},{"level":28,"next":29,"low":0,"high":1},{"level":29,"next":30,"low":0,"high":1},{"level":30,"next":31,"low":0,"high":1},{"level":31,"next":32,"low":0,"high":1},{"level":32,"next":33,"low":0,"high":1},{"level":33,"next":34,"low":0,"high":1},{"level":34,"next":35,"low":0,"high":1},{"level":35,"next":36,"low":0,"high":1},{"level":36,"next":37,"low":0,"high":1},{"level":37,"next":38,"low":0,"high":1},{"level":38,"next":39,"low":0,"high":1},{"level":39,"next":40,"low":0,"high":1},{"level":40,"next":41,"low":0,"high":1},{"level":41,"next":42,"low":0,"high":1},{"level":42,"next":43,"low":0,"high":1},{"level":43,"next":44,"low":0,"high":1},{"level":44,"next":45,"low":0,"high":1},{"level":45,"next":46,"low":0,"high":1},{"level":46,"next":47,"low":0,"high":1},{"level":47,"next":48,"low":0,"high":1},{"level":48,"next":49,"low":0,"high":1},{"level":49,"next":50,"low":0,"high":1},{"level":50,"next":51,"low":0,"high":1},{"level":51,"next":52,"low":0,"high":1},{"level":52,"next":53,"low":0,"high":1},{"level":53,"next":54,"low":0,"high":1},{"level":54,"next":55,"low":0,"high":1},{"level":55,"next":56,"low":0,"high":1},{"level":56,"next":57,"low":0,"high":1},{"level":57,"next":58,"low":0,"high":1},{"level":58,"next":59,"low":0,"high":1},{"level":59,"next":60,"low":0,"high":1},{"level":60,"next":61,"low":0,"high":1},{"level":61,"next":62,"low":0,"high":1},{"level":62,"next":63,"low":0,"high":1},{"level":63,"next":64,"low":0,"high":1},{"level":64,"next":65,"low":0,"high":1},{"level":65,"next":66,"low":0,"high":1},{"level":66,"next":67,"low":0,"high":1},{"level":67,"next":68,"low":0,"high":1},{"level":68,"next":69,"low":0,"high":1},{"level":69,"next":70,"low":0,"high":1},{"level":70,"next":71,"low":0,"high":1},{"level":71,"next":72,"low":0,"high":1},{"level":72,"next":73,"low":0,"high":1},{"level":73,"next":74,"low":0,"high":1}
]},
"layer":[
{"data":{"name":"heat"},"mark":{"type":"rect","strokeWidth":1},"encoding":{
"x":{"field":"from","type":"temporal","axis":null,"scale":{"type":"utc","domain":["2026-01-21T15:26:00Z","2026-01-22T13:09:00Z"],"range":[0,715],"nice":false}},"x2":{"field":"to"},
"y":{"field":"high","type":"quantitative","axis":null,"scale":{"domain":[84043,93774],"range":[1333,0],"nice":false,"zero":false}},"y2":{"field":"low"},
"color":{"field":"v","type":"quantitative","legend":null,"scale":{"domain":[0,7,15,24,34,48,57,66,74],"range":["#3f0a57","#3a3a75","#3a5a85","#3f7a8c","#4c9686","#5aaa78","#80c860","#b8d850","#f0e845"]}},
"stroke":{"field":"v","type":"quantitative","legend":null,"scale":{"domain":[0,7,15,24,34,48,57,66,74],"range":["#3f0a57","#3a3a75","#3a5a85","#3f7a8c","#4c9686","#5aaa78","#80c860","#b8d850","#f0e845"]}}}},
{"data":{"name":"candles"},"transform":[{"filter":"isValid(datum.high)"}],"mark":{"type":"rule","strokeWidth":1,"clip":true,"color":"#8fb5a8"},"encoding":{
"x":{"field":"t","type":"temporal","axis":null,"scale":{"type":"utc","domain":["2026-01-21T15:26:00Z","2026-01-22T13:09:00Z"],"range":[0,715],"nice":false}},
"y":{"field":"high","type":"quantitative","axis":null,"scale":{"domain":[84043,93774],"range":[1333,0],"nice":false,"zero":false}},"y2":{"field":"low"}}},
{"data":{"name":"candles"},"mark":{"type":"rule","strokeWidth":2.6,"clip":true},"encoding":{
"x":{"field":"t","type":"temporal","scale":{"type":"utc","domain":["2026-01-21T15:26:00Z","2026-01-22T13:09:00Z"],"range":[0,715],"nice":false},
"axis":{"orient":"bottom","offset":-201,"zindex":1,"title":null,"domain":false,"ticks":false,"grid":false,"labelPadding":1,"labelFlush":false,"labelOverlap":false,"labelFont":"Roboto","labelFontSize":27,"labelColor":"#111111","labelBaseline":"top","format":"%m-%d %H:%M",
"values":[{"year":2026,"month":1,"date":21,"hours":18,"minutes":50,"utc":true},{"year":2026,"month":1,"date":22,"hours":0,"minutes":30,"utc":true},{"year":2026,"month":1,"date":22,"hours":6,"minutes":10,"utc":true},{"year":2026,"month":1,"date":22,"hours":11,"minutes":50,"utc":true}]}},
"y":{"field":"open","type":"quantitative","scale":{"domain":[84043,93774],"range":[1333,0],"nice":false,"zero":false},
"axis":{"orient":"right","offset":-113,"title":null,"domain":false,"ticks":false,"grid":false,"labelPadding":18,"labelOffset":1,"labelFont":"Roboto","labelFontSize":26,"labelColor":"#111111","labelFlush":false,"labelOverlap":false,"labelBound":false,"format":"d","values":[84050,86000,88000,90000,92000]}},"y2":{"field":"close"},
"color":{"condition":{"test":"datum.close>=datum.open","value":"#5dc98a"},"value":"#e8595f"}}},
{"layer":[
{"data":{"values":[{"from":"2026-01-21T15:26Z","to":"2026-01-22T13:18Z","low":86219,"high":91625}]},"mark":{"type":"rect","color":"#eef0fb"},"encoding":{
"x":{"field":"from","type":"temporal","axis":null,"scale":{"type":"utc","domain":["2026-01-21T15:26:00Z","2026-01-22T13:18:00Z"],"range":[0,720],"nice":false}},"x2":{"field":"to"},
"y":{"field":"high","type":"quantitative","axis":null,"scale":{"domain":[86219,91625],"range":[1492,1355],"nice":false,"zero":false}},"y2":{"field":"low"}}}
]},
{"data":{"name":"candles"},"layer":[
{"mark":{"type":"area","color":"#d9dff7","opacity":1,"line":{"color":"#a9b8e8","strokeWidth":1}},"encoding":{"y2":{"datum":86219}}}
],"encoding":{
"x":{"field":"t","type":"temporal","axis":null,"scale":{"type":"utc","domain":["2026-01-21T15:26:00Z","2026-01-22T13:09:00Z"],"range":[8,723],"nice":false}},
"y":{"field":"close","type":"quantitative","axis":null,"stack":null,"scale":{"domain":[86219,91625],"range":[1492,1355],"nice":false,"zero":false}}}},
{"layer":[
{"data":{"values":[{"t":"2026-01-22T05:30Z","price":84649,"label":"coinglass"}]},"mark":{"type":"text","align":"left","baseline":"middle","font":"Lato","fontWeight":"bold","fontSize":41,"color":"#85709a"},"encoding":{"text":{"field":"label"}}},
{"data":{"values":[{"t":"2026-01-22T04:24Z","price":84630}]},"mark":{"type":"point","filled":true,"opacity":1,"size":3136,"color":"#85709a","shape":"M-.48,-1 L-.35,-.88 L.35,-.88 L.48,-1 L.5,-.78 C.7,-.75 .9,-.65 .9,-.5 C.8,-.42 .7,-.42 .65,-.4 C.6,-.1 .5,.2 .35,.28 L.5,.6 L.4,.95 L.15,.9 L-.15,.9 L-.4,.95 L-.55,.65 L-.35,.28 C-.5,.2 -.6,-.1 -.65,-.4 C-.7,-.42 -.85,-.42 -.92,-.5 C-.9,-.65 -.7,-.75 -.5,-.78 Z"}},
{"data":{"values":[{"t":"2026-01-22T12:58Z","price":84737,"label":"D"}]},"mark":{"type":"text","align":"left","baseline":"middle","clip":true,"fontSize":16,"color":"#ffffff"},"encoding":{"text":{"field":"label"}}},
{"data":{"values":[{"t":"2026-01-22T13:42Z","price":93817,"label":"93817"}]},"mark":{"type":"text","align":"left","baseline":"middle","font":"Roboto","fontSize":26,"color":"#111111"},"encoding":{"text":{"field":"label"}}}
],"encoding":{
"x":{"field":"t","type":"temporal","axis":null,"scale":{"type":"utc","domain":["2026-01-21T15:26:00Z","2026-01-22T13:09:00Z"],"range":[0,715],"nice":false}},
"y":{"field":"price","type":"quantitative","axis":null,"scale":{"domain":[84043,93774],"range":[1333,0],"nice":false,"zero":false}}}},
{"layer":[
{"data":{"name":"ramp"},"mark":{"type":"rect","strokeWidth":1},"encoding":{"x2":{"field":"next"},"y":{"field":"high","type":"quantitative"},"y2":{"field":"low"},"color":{"field":"level","type":"quantitative","legend":null,"scale":{"domain":[0,7,15,24,34,48,57,66,74],"range":["#3f0a57","#3a3a75","#3a5a85","#3f7a8c","#4c9686","#5aaa78","#80c860","#b8d850","#f0e845"]}},"stroke":{"field":"level","type":"quantitative","legend":null,"scale":{"domain":[0,7,15,24,34,48,57,66,74],"range":["#3f0a57","#3a3a75","#3a5a85","#3f7a8c","#4c9686","#5aaa78","#80c860","#b8d850","#f0e845"]}}}},
{"data":{"values":[{"level":81.9,"high":2.01}]},"mark":{"type":"point","filled":true,"opacity":1,"size":254,"color":"#2f333b"},"encoding":{"y":{"field":"high","type":"quantitative"}}},
{"data":{"values":[{"level":80.2,"next":88.3,"low":0.88,"high":1.985},{"level":80.2,"next":88.3,"low":-0.2,"high":0.73}]},"mark":{"type":"rect","color":"#f0f1f5","cornerRadius":14},"encoding":{"x2":{"field":"next"},"y":{"field":"high","type":"quantitative"},"y2":{"field":"low"}}},
{"data":{"values":[{"level":84.2,"high":1.448}]},"mark":{"type":"point","filled":false,"opacity":1,"size":1444,"color":"#33383f","strokeWidth":3,"shape":"M0,-1 L.253,-.78 L.588,-.809 L.663,-.482 L.951,-.309 L.82,0 L.951,.309 L.663,.482 L.588,.809 L.253,.78 L0,1 L-.253,.78 L-.588,.809 L-.663,.482 L-.951,.309 L-.82,0 L-.951,-.309 L-.663,-.482 L-.588,-.809 L-.253,-.78 Z"},"encoding":{"y":{"field":"high","type":"quantitative"}}},
{"data":{"values":[{"level":84.2,"high":1.448,"label":"!"}]},"mark":{"type":"text","fontSize":24,"fontWeight":"bold","color":"#33383f","align":"center","baseline":"middle"},"encoding":{"y":{"field":"high","type":"quantitative"},"text":{"field":"label"}}},
{"data":{"values":[{"level":84.3,"high":0.18}]},"mark":{"type":"point","filled":false,"opacity":1,"size":784,"color":"#33383f","strokeWidth":4.5,"shape":"M-1,.5 L0,-.5 L1,.5"},"encoding":{"y":{"field":"high","type":"quantitative"}}},
{"data":{"values":[{"level":78.1,"high":0.51,"label":"74"}]},"mark":{"type":"text","fontSize":26,"color":"#111111","align":"center","baseline":"middle"},"encoding":{"y":{"field":"high","type":"quantitative"},"text":{"field":"label"}}},
{"data":{"values":[{"level":93.5,"high":19.73,"low":14.36}]},"mark":{"type":"rule","strokeWidth":5,"strokeCap":"round","color":"#8c8c8c"},"encoding":{"y":{"field":"high","type":"quantitative"},"y2":{"field":"low"}}},
{"data":{"values":[{"level":81.7,"high":23.09,"low":3.19}]},"mark":{"type":"rule","strokeWidth":1,"color":"#dcdcf6"},"encoding":{"y":{"field":"high","type":"quantitative"},"y2":{"field":"low"}}},
{"data":{"values":[{"level":61.3,"high":0.33}]},"mark":{"type":"point","filled":true,"opacity":1,"size":784,"color":"#ffffff","stroke":"#b0b0b0","strokeWidth":0.5,"shape":"M0,-1 L.55,-.45 L.32,-.22 L0,-.54 L-.32,-.22 L-.55,-.45 Z M0,1 L.55,.45 L.32,.22 L0,.54 L-.32,.22 L-.55,.45 Z M0,-.22 L.22,0 L0,.22 L-.22,0 Z M-.68,-.22 L-.46,0 L-.68,.22 L-.9,0 Z M.68,-.22 L.9,0 L.68,.22 L.46,0 Z"},"encoding":{"y":{"field":"high","type":"quantitative"}}},
{"data":{"values":[{"level":63.4,"high":0.33,"label":"@ Pavel Katkov Officia..."}]},"mark":{"type":"text","fontSize":24,"dx":1,"dy":1,"color":"#a8a8a8","align":"left","baseline":"middle"},"encoding":{"y":{"field":"high","type":"quantitative"},"text":{"field":"label"}}},
{"data":{"values":[{"level":63.4,"high":0.33,"label":"@ Pavel Katkov Officia..."}]},"mark":{"type":"text","fontSize":24,"color":"#ffffff","align":"left","baseline":"middle"},"encoding":{"y":{"field":"high","type":"quantitative"},"text":{"field":"label"}}}
],"encoding":{
"x":{"field":"level","type":"quantitative","axis":null,"scale":{"domain":[0,74],"range":[0,648],"nice":false,"zero":false}},
"y":{"axis":null,"scale":{"domain":[0,1],"range":[1547,1480],"nice":false,"zero":false}}}}
]}
